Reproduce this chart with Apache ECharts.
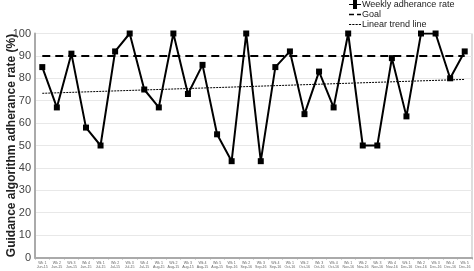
<!DOCTYPE html>
<html>
<head>
<meta charset="utf-8">
<script src="https://cdn.jsdelivr.net/npm/echarts@6/dist/echarts.min.js"></script>
<style>
  html, body { margin: 0; padding: 0; background: #fff; }
  #main { width: 474px; height: 271px; }
</style>
</head>
<body>
<div id="main"></div>
<script>
// weeks, Jun-15 .. Dec-16 as printed on the original axis
var weeks = ['Wk 1', 'Wk 2', 'Wk 3', 'Wk 4', 'Wk 1', 'Wk 2', 'Wk 3', 'Wk 4',
	'Wk 1', 'Wk 2', 'Wk 3', 'Wk 4', 'Wk 5', 'Wk 1', 'Wk 2', 'Wk 3', 'Wk 4',
	'Wk 1', 'Wk 2', 'Wk 3', 'Wk 4', 'Wk 1', 'Wk 2', 'Wk 3', 'Wk 4',
	'Wk 1', 'Wk 2', 'Wk 3', 'Wk 4', 'Wk 5'];
var months = ['Jun-15', 'Jun-15', 'Jun-15', 'Jun-15', 'Jul-15', 'Jul-15', 'Jul-15', 'Jul-15',
	'Aug-15', 'Aug-15', 'Aug-15', 'Aug-15', 'Aug-15', 'Sep-16', 'Sep-16', 'Sep-16', 'Sep-16',
	'Oct-16', 'Oct-16', 'Oct-16', 'Oct-16', 'Nov-16', 'Nov-16', 'Nov-16', 'Nov-16',
	'Dec-16', 'Dec-16', 'Dec-16', 'Dec-16', 'Dec-16'];

// weekly adherance rate (%)
var weeklyRate = [85, 67, 91, 58, 50, 92, 100, 75, 67, 100, 73, 86, 55, 43, 100, 43,
	85, 92, 64, 83, 67, 100, 50, 50, 89, 63, 100, 100, 80, 92];
var goalValue = 90;
// linear trend line, first and last week
var trendStart = 73.3;
var trendEnd = 79.5;

var categories = [];
for (var i = 0; i < weeks.length; i++) {
	categories.push(weeks[i] + '\n' + months[i]);
}
var goalData = [];
for (var i = 0; i < categories.length; i++) {
	goalData.push(goalValue);
}
var trendData = [[0, trendStart], [categories.length - 1, trendEnd]];

var myChart = echarts.init(document.getElementById('main'));
var option = {
	animation: false,
	backgroundColor: '#fff',
	textStyle: { fontFamily: 'Liberation Sans, Arial, sans-serif' },
	legend: {
		orient: 'vertical',
		left: 349,
		top: 0,
		padding: 0,
		itemGap: 1,
		itemWidth: 12,
		itemHeight: 9,
		textStyle: { fontSize: 9, lineHeight: 9, color: '#222', padding: [0, 0, 0, -4] },
		data: [
			{ name: 'Weekly adherance rate', icon: 'path://M0,4L4,4L4,0L8,0L8,4L12,4L12,5L8,5L8,9L4,9L4,5L0,5Z' },
			{ name: 'Goal', icon: 'path://M0,4L5,4L5,5.5L0,5.5ZM8,4L12,4L12,5.5L8,5.5Z' },
			{ name: 'Linear trend line', icon: 'path://M0,4L2,4L2,5L0,5ZM3,4L5,4L5,5L3,5ZM6,4L8,4L8,5L6,5ZM9,4L11,4L11,5L9,5Z' }
		]
	},
	grid: {
		left: 35, right: 2, top: 33.5, bottom: 13.5,
		outerBoundsMode: 'none', containLabel: false,
		show: true, borderColor: '#bbb', borderWidth: 1
	},
	xAxis: {
		type: 'category',
		data: categories,
		axisLine: { lineStyle: { color: '#aaa', width: 2 } },
		axisTick: { show: true, alignWithLabel: false, length: 2, lineStyle: { color: '#aaa' } },
		axisLabel: { interval: 0, fontSize: 3.6, lineHeight: 4.5, color: '#666', margin: 3 }
	},
	yAxis: {
		type: 'value',
		min: 0,
		max: 100,
		interval: 10,
		name: 'Guidance algorithm adherance rate (%)',
		nameLocation: 'middle',
		nameGap: 17,
		nameMoveOverlap: false,
		nameTextStyle: { fontSize: 12, fontWeight: 'bold', color: '#222' },
		axisLine: { show: true, lineStyle: { color: '#aaa', width: 2 } },
		axisTick: { show: false },
		axisLabel: { fontSize: 11, color: '#444', margin: 4 },
		splitLine: { lineStyle: { color: '#e8e8e8' } }
	},
	series: [
		{
			name: 'Weekly adherance rate',
			type: 'line',
			data: weeklyRate,
			symbol: 'rect',
			symbolSize: 6,
			itemStyle: { color: '#000' },
			lineStyle: { color: '#000', width: 2 },
			z: 3
		},
		{
			name: 'Goal',
			type: 'line',
			data: goalData,
			symbol: 'none',
			itemStyle: { color: '#000' },
			lineStyle: { color: '#000', width: 2, type: [8, 5] },
			z: 2
		},
		{
			name: 'Linear trend line',
			type: 'line',
			data: trendData,
			symbol: 'none',
			itemStyle: { color: '#000' },
			lineStyle: { color: '#000', width: 1, type: [2, 1] },
			z: 2
		}
	]
};
myChart.setOption(option);
</script>
</body>
</html>
